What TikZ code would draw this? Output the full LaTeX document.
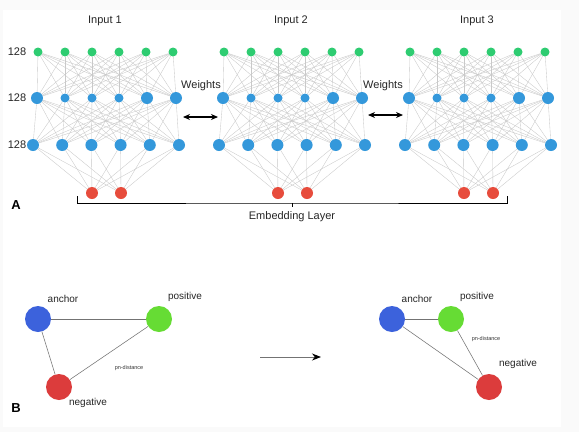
\documentclass[tikz,border=0pt]{standalone}
\usepackage{fontspec}
\setmainfont{Liberation Sans}
\usetikzlibrary{arrows.meta,positioning}
\pgfdeclarelayer{background}
\pgfsetlayers{background,main}

\definecolor{ingreen}{RGB}{46,204,113}
\definecolor{hidblue}{RGB}{52,152,219}
\definecolor{embred}{RGB}{231,76,60}
\definecolor{ancblue}{RGB}{60,98,220}
\definecolor{posgreen}{RGB}{102,220,52}
\definecolor{negred}{RGB}{220,60,60}

\tikzset{
  gnode/.style={circle, fill=ingreen, inner sep=0pt, minimum size=9pt},
  bnode/.style={circle, fill=hidblue, inner sep=0pt, minimum size=12pt},
  snode/.style={bnode, minimum size=9pt},
  rnode/.style={circle, fill=embred, inner sep=0pt, minimum size=12pt},
  link/.style={draw=black!21, line width=0.35pt},
  lbl/.style={font=\fontsize{11}{13}\selectfont, text=black!85},
  blbl/.style={font=\fontsize{10}{12}\selectfont, text=black!85},
  tri/.style={circle, inner sep=0pt, minimum size=26pt},
  side/.style={draw=black!55, line width=0.55pt},
  smalltxt/.style={font=\fontsize{5.5}{6}\selectfont, text=black!80},
  wt/.style={{Stealth[length=7pt,width=6pt]}-{Stealth[length=7pt,width=6pt]}, line width=1.1pt}
}

\begin{document}
\begin{tikzpicture}[x=1pt,y=-1pt]
\begin{pgfonlayer}{background}
\fill[black!2] (0,0) rectangle (579,432);
\fill[white] (3,10) rectangle (561,427);
\end{pgfonlayer}

% the three networks
\foreach \k/\ox in {1/0,2/186,3/372}{
  \node[lbl] (in\k) at (105+\ox,21) {Input \k};
  \foreach \i/\gx/\mx/\ms in {1/38/37/bnode,2/65/65/snode,3/92/92/snode,4/119/119/snode,5/146/147/bnode,6/173/176/bnode}{
    \node[gnode] (g\k-\i) at (\gx+\ox,52) {};
    \node[\ms] (m\k-\i) at (\mx+\ox,98) {};
    \node[bnode] (b\k-\i) at (33+29.2*\i-29.2+\ox,145) {};
  }
  \node[rnode] (r\k-1) at (92+\ox,193) {};
  \node[rnode] (r\k-2) at (121+\ox,193) {};
}
\begin{pgfonlayer}{background}
\foreach \k in {1,2,3}{
  \foreach \i in {1,...,6}{
    \foreach \j in {1,...,6}{
      \draw[link] (g\k-\i) -- (m\k-\j);
      \draw[link] (m\k-\i) -- (b\k-\j);
    }
    \foreach \j in {1,2} \draw[link] (b\k-\i) -- (r\k-\j);
  }
}
\end{pgfonlayer}

\foreach \y/\n in {52/1,98/2,145/3} \node[lbl] (s\n) at (17,\y) {128};

% shared weights
\node[lbl] (w1) at (201,86) {Weights};
\node[lbl] (w2) at (383,86) {Weights};
\coordinate (w1l) at (183,117);
\coordinate (w1r) at (218,117);
\coordinate (w2l) at (368,115);
\coordinate (w2r) at (403,115);
\draw[wt] (w1l) -- (w1r);
\draw[wt] (w2l) -- (w2r);

% embedding bracket
\coordinate (bl) at (77,196);
\coordinate (br) at (507,196);
\coordinate (bm) at (292,203);
\draw[line width=1pt] (bl) |- (bm) -| (br);
\draw[line width=1pt] (bm) -- ++(0,4);
\node[lbl] (emb) at (292,217) {Embedding Layer};
\node[font=\fontsize{13}{15}\selectfont\bfseries] (pa) at (16,205) {A};

% triplet before
\node[tri, fill=ancblue] (a1) at (38,319) {};
\node[tri, fill=posgreen] (p1) at (159,319) {};
\node[tri, fill=negred] (n1) at (59,387) {};
\draw[side] (a1) -- (p1);
\draw[side] (a1) -- (n1);
\draw[side] (p1) -- (n1);
\node[blbl] (la1) at (63,299) {anchor};
\node[blbl] (lp1) at (185,297) {positive};
\node[blbl] (ln1) at (88,403) {negative};
\node[smalltxt] (d1) at (129,368) {pn-distance};

% training step
\coordinate (t0) at (260,357);
\coordinate (t1) at (321,357);
\draw[side, line width=0.9pt, -{Stealth[black,length=9pt,width=7pt]}] (t0) -- (t1);

% triplet after
\node[tri, fill=ancblue] (a2) at (392,319) {};
\node[tri, fill=posgreen] (p2) at (451,319) {};
\node[tri, fill=negred] (n2) at (489,387) {};
\draw[side] (a2) -- (p2);
\draw[side] (a2) -- (n2);
\draw[side] (p2) -- (n2);
\node[blbl] (la2) at (417,299) {anchor};
\node[blbl] (lp2) at (477,297) {positive};
\node[blbl] (ln2) at (518,364) {negative};
\node[smalltxt] (d2) at (486,339) {pn-distance};
\node[font=\fontsize{13}{15}\selectfont\bfseries] (pb) at (16,408) {B};
\end{tikzpicture}
\end{document}
